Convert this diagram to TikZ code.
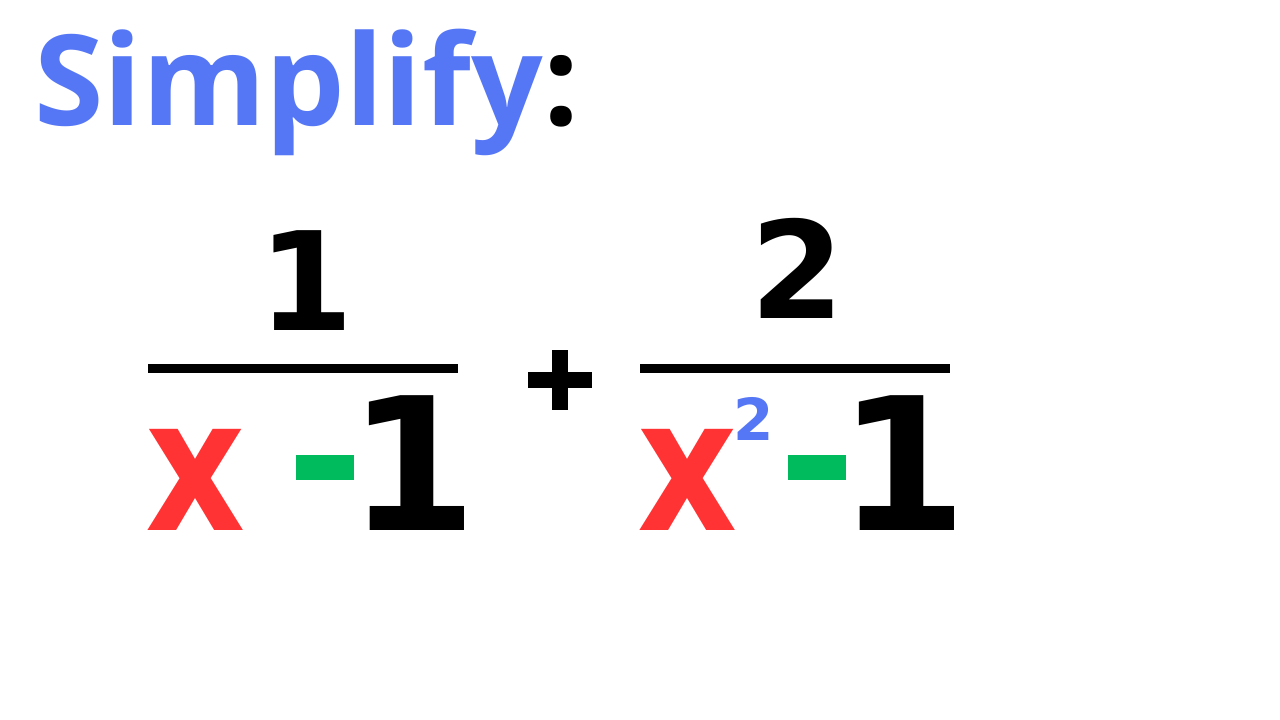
\documentclass[tikz,border=0pt]{standalone}
\usepackage{fontspec}
\setmainfont{Open Sans}
\newfontfamily\numfont{DejaVu Sans}
\definecolor{pblue}{HTML}{5577F5}
\definecolor{pred}{HTML}{FF3333}
\definecolor{pgreen}{HTML}{00BB5E}
\tikzset{txt/.style={inner sep=0pt,anchor=base west},
  bar/.style={fill=black,draw=none}}
\begin{document}
\begin{tikzpicture}[x=1pt,y=-1pt]
\useasboundingbox[fill=white] (0,0) rectangle (1280,720);
\node[txt,text=pblue,font=\fontsize{126}{140}\selectfont\bfseries] (title) at (34,125) {Simplify};
\node[txt,font=\fontsize{126}{140}\selectfont\bfseries] (colon) at (title.base east) {:};
% fraction 1
\node[txt,font=\numfont\fontsize{137}{150}\selectfont\bfseries] (n1) at (258,330) {1};
\fill[bar] (148,364) rectangle (458,373);
\node[txt,text=pred,xscale=0.84,font=\numfont\fontsize{185}{190}\selectfont\bfseries] (x1) at (145,530) {x};
\fill[pgreen] (296,455) rectangle (354,480);
\node[txt,font=\numfont\fontsize{185}{200}\selectfont\bfseries] (d1) at (348,530) {1};
% plus
\fill[bar] (528,372) rectangle (592,388);
\fill[bar] (552,350) rectangle (568,410);
% fraction 2
\node[txt,font=\numfont\fontsize{135}{150}\selectfont\bfseries] (n2) at (750,318) {2};
\fill[bar] (640,364) rectangle (950,373);
\node[txt,text=pred,xscale=0.84,font=\numfont\fontsize{185}{190}\selectfont\bfseries] (x2) at (637,530) {x};
\node[txt,text=pblue,font=\numfont\fontsize{58}{62}\selectfont\bfseries] (sq) at (733,440) {2};
\fill[pgreen] (788,455) rectangle (846,480);
\node[txt,font=\numfont\fontsize{185}{200}\selectfont\bfseries] (d2) at (838,530) {1};
\end{tikzpicture}
\end{document}
